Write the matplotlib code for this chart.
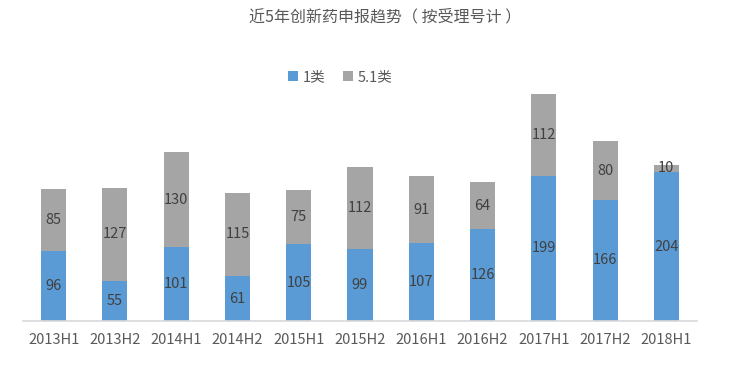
import numpy as np
import matplotlib
matplotlib.use("Agg")
import matplotlib.pyplot as plt

plt.rcParams['font.family'] = ['Noto Sans CJK SC', 'DejaVu Sans']

# donnees
periodes = ["2013H1", "2013H2", "2014H1", "2014H2", "2015H1", "2015H2",
            "2016H1", "2016H2", "2017H1", "2017H2", "2018H1"]
classe1 = [96, 55, 101, 61, 105, 99, 107, 126, 199, 166, 204]
classe51 = [85, 127, 130, 115, 75, 112, 91, 64, 112, 80, 10]

bleu = "#5B9BD5"
gris = "#A5A5A5"
texte = "#404040"

fig = plt.figure(figsize=(7.33, 3.8), dpi=100)
ax = fig.add_axes([23/733, 59/380, 674/733, 255.5/380])

x = np.arange(len(periodes))
w = 0.41
b1 = ax.bar(x, classe1, w, color=bleu, label="1类")
b2 = ax.bar(x, classe51, w, bottom=classe1, color=gris, label="5.1类")

for i in range(len(x)):
    ax.text(x[i], classe1[i]/2, str(classe1[i]), ha="center", va="center",
            fontsize=10.5, color=texte)
    ax.text(x[i], classe1[i] + classe51[i]/2, str(classe51[i]), ha="center",
            va="center", fontsize=10.5, color=texte)

ax.set_xlim(-0.5, len(x) - 0.5)
ax.set_ylim(0, 350)
ax.set_xticks(x)
ax.set_xticklabels(periodes, fontsize=10.5, color="#595959")
ax.tick_params(axis="x", length=0, pad=9)
ax.set_yticks([])
for s in ["top", "right", "left"]:
    ax.spines[s].set_visible(False)
ax.spines["bottom"].set_color("#D9D9D9")
ax.spines["bottom"].set_linewidth(1.2)

fig.text(385/733, 1 - 17/380, "近5年创新药申报趋势（ 按受理号计 ）", ha="center",
         va="center", fontsize=11.5, color="#595959")

fig.legend(handles=[b1, b2], loc="center", bbox_to_anchor=(340/733, 1 - 77/380),
           ncol=2, frameon=False, fontsize=10.5, handlelength=0.7, handleheight=0.7,
           handletextpad=0.3, columnspacing=1.2, labelcolor="#595959")

fig.savefig("out.png", dpi=100)
